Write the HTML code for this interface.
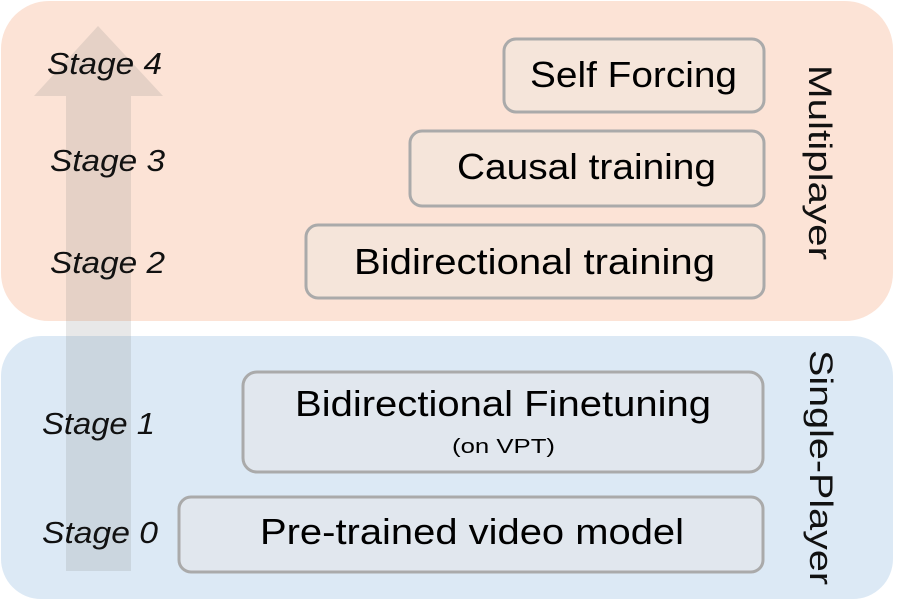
<!DOCTYPE html>
<html><head><meta charset="utf-8"><style>html,body{margin:0;padding:0;background:#fff}svg{display:block}</style></head>
<body>
<svg width="898" height="606" viewBox="0 0 898 606" xmlns="http://www.w3.org/2000/svg" font-family="Liberation Sans, sans-serif">
<rect x="1" y="1" width="892" height="320" rx="48" fill="#fce3d6"/>
<rect x="1" y="336" width="892" height="263" rx="40" fill="#dce9f5"/>
<g fill="#808080" fill-opacity="0.18">
<polygon points="34,96 98,26 163,96"/>
<rect x="66" y="96" width="65" height="475"/>
</g>
<g stroke="#aaaaaa" stroke-width="3">
<rect x="504" y="39" width="260" height="73" rx="12" fill="#f5e5da"/>
<rect x="410" y="131" width="354" height="75" rx="12" fill="#f5e5da"/>
<rect x="306" y="225" width="458" height="73" rx="12" fill="#f5e5da"/>
<rect x="243" y="372" width="520" height="100" rx="14" fill="#e1e7ee"/>
<rect x="179" y="497" width="584" height="75" rx="12" fill="#e1e7ee"/>
</g>
<g fill="#000" font-size="36">
<text x="530" y="87" textLength="207" lengthAdjust="spacingAndGlyphs">Self Forcing</text>
<text x="457" y="179" textLength="259" lengthAdjust="spacingAndGlyphs">Causal training</text>
<text x="354" y="274" textLength="361" lengthAdjust="spacingAndGlyphs">Bidirectional training</text>
<text x="295" y="416" textLength="416" lengthAdjust="spacingAndGlyphs">Bidirectional Finetuning</text>
<text x="452" y="453" font-size="20" textLength="103" lengthAdjust="spacingAndGlyphs">(on VPT)</text>
<text x="260" y="544" textLength="424" lengthAdjust="spacingAndGlyphs">Pre-trained video model</text>
</g>
<g fill="#111" font-size="31" font-style="italic">
<text x="47" y="74" textLength="115" lengthAdjust="spacingAndGlyphs">Stage 4</text>
<text x="50" y="171" textLength="115" lengthAdjust="spacingAndGlyphs">Stage 3</text>
<text x="50" y="273" textLength="115" lengthAdjust="spacingAndGlyphs">Stage 2</text>
<text x="42" y="434" textLength="113" lengthAdjust="spacingAndGlyphs">Stage 1</text>
<text x="42" y="543" textLength="116" lengthAdjust="spacingAndGlyphs">Stage 0</text>
</g>
<g fill="#111" font-size="32">
<text transform="translate(809,65) rotate(90)" textLength="195" lengthAdjust="spacingAndGlyphs">Multiplayer</text>
<text transform="translate(810,350) rotate(90)" textLength="235" lengthAdjust="spacingAndGlyphs">Single-Player</text>
</g>
</svg>
</body></html>
